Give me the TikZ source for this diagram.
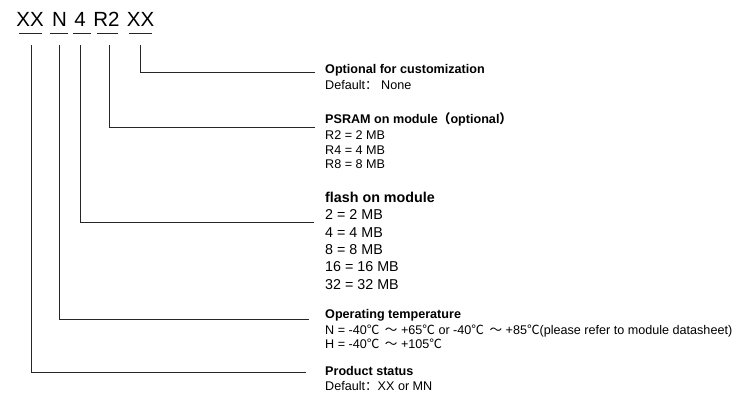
\documentclass[tikz,border=0pt]{standalone}
\usepackage{fontspec}
\setmainfont{Liberation Sans}
\newfontfamily\cjk{Noto Sans CJK SC}
\newcommand{\degc}{{\cjk ℃}}
\newcommand{\tld}{\hspace{5.5pt}{\cjk ～}\ }
\begin{document}
\begin{tikzpicture}[x=1pt,y=-1pt,
  code/.style={font=\fontsize{20.5}{24}\selectfont, inner sep=0pt, anchor=base},
  sm/.style={font=\fontsize{12.6}{15}\selectfont, inner sep=0pt, anchor=base west},
  smb/.style={sm, font=\fontsize{12.6}{15}\selectfont\bfseries},
  big/.style={font=\fontsize{14.3}{17}\selectfont, inner sep=0pt, anchor=base west},
  bigb/.style={big, font=\fontsize{14.3}{17}\selectfont\bfseries},
  uline/.style={line width=1pt, black!85},
  conn/.style={line width=1pt, black!85}]
\useasboundingbox (0,0) rectangle (750,400);
\fill[white] (0,0) rectangle (750,400);
% code
\node[code] (c1) at (30,26.7) {XX};
\node[code] (c2) at (59.5,26.7) {N};
\node[code] (c3) at (80,26.7) {4};
\node[code] (c4) at (106.5,26.7) {R2};
\node[code] (c5) at (140.5,26.7) {XX};
% underlines
\coordinate (u1a) at (19,33.3); \coordinate (u1b) at (42,33.3);
\coordinate (u2a) at (50,33.3); \coordinate (u2b) at (68,33.3);
\coordinate (u3a) at (73,33.3); \coordinate (u3b) at (91,33.3);
\coordinate (u4a) at (97,33.3); \coordinate (u4b) at (118,33.3);
\coordinate (u5a) at (129,33.3); \coordinate (u5b) at (152,33.3);
\draw[uline] (u1a) -- (u1b);
\draw[uline] (u2a) -- (u2b);
\draw[uline] (u3a) -- (u3b);
\draw[uline] (u4a) -- (u4b);
\draw[uline] (u5a) -- (u5b);
% connector starts and ends
\coordinate (s1) at (31,45);  \coordinate (e1) at (306,372);
\coordinate (s2) at (59,45);  \coordinate (e2) at (309,319);
\coordinate (s3) at (80,45);  \coordinate (e3) at (314,222);
\coordinate (s4) at (109,45); \coordinate (e4) at (315,127);
\coordinate (s5) at (140,45); \coordinate (e5) at (315,72);
\draw[conn] (s1) |- (e1);
\draw[conn] (s2) |- (e2);
\draw[conn] (s3) |- (e3);
\draw[conn] (s4) |- (e4);
\draw[conn] (s5) |- (e5);
% block 1
\node[smb] (t1) at (325,73.5) {Optional for customization};
\node[sm] (t1a) at (325,89.5) {Default{\cjk ：}\ None};
% block 2
\node[smb] (t2) at (325,123.5) {PSRAM on module{\cjk （}optional{\cjk ）}};
\node[sm] (t2a) at (325,139.5) {R2 = 2 MB};
\node[sm] (t2b) at (325,154.5) {R4 = 4 MB};
\node[sm] (t2c) at (325,168.5) {R8 = 8 MB};
% block 3
\node[bigb] (t3) at (325,202.5) {flash on module};
\node[big] (t3a) at (325,219) {2 = 2 MB};
\node[big] (t3b) at (325,237) {4 = 4 MB};
\node[big] (t3c) at (325,254) {8 = 8 MB};
\node[big] (t3d) at (325,271) {16 = 16 MB};
\node[big] (t3e) at (325,289) {32 = 32 MB};
% block 4
\node[smb] (t4) at (325,318.5) {Operating temperature};
\node[sm] (t4a) at (325,334.5) {N = -40\degc\tld+65\degc\ or -40\degc\tld+85\degc(please refer to module datasheet)};
\node[sm] (t4b) at (325,348.5) {H = -40\degc\tld+105\degc};
% block 5
\node[smb] (t5) at (325,375.5) {Product status};
\node[sm] (t5a) at (325,390.5) {Default{\cjk ：}XX or MN};
\end{tikzpicture}
\end{document}
